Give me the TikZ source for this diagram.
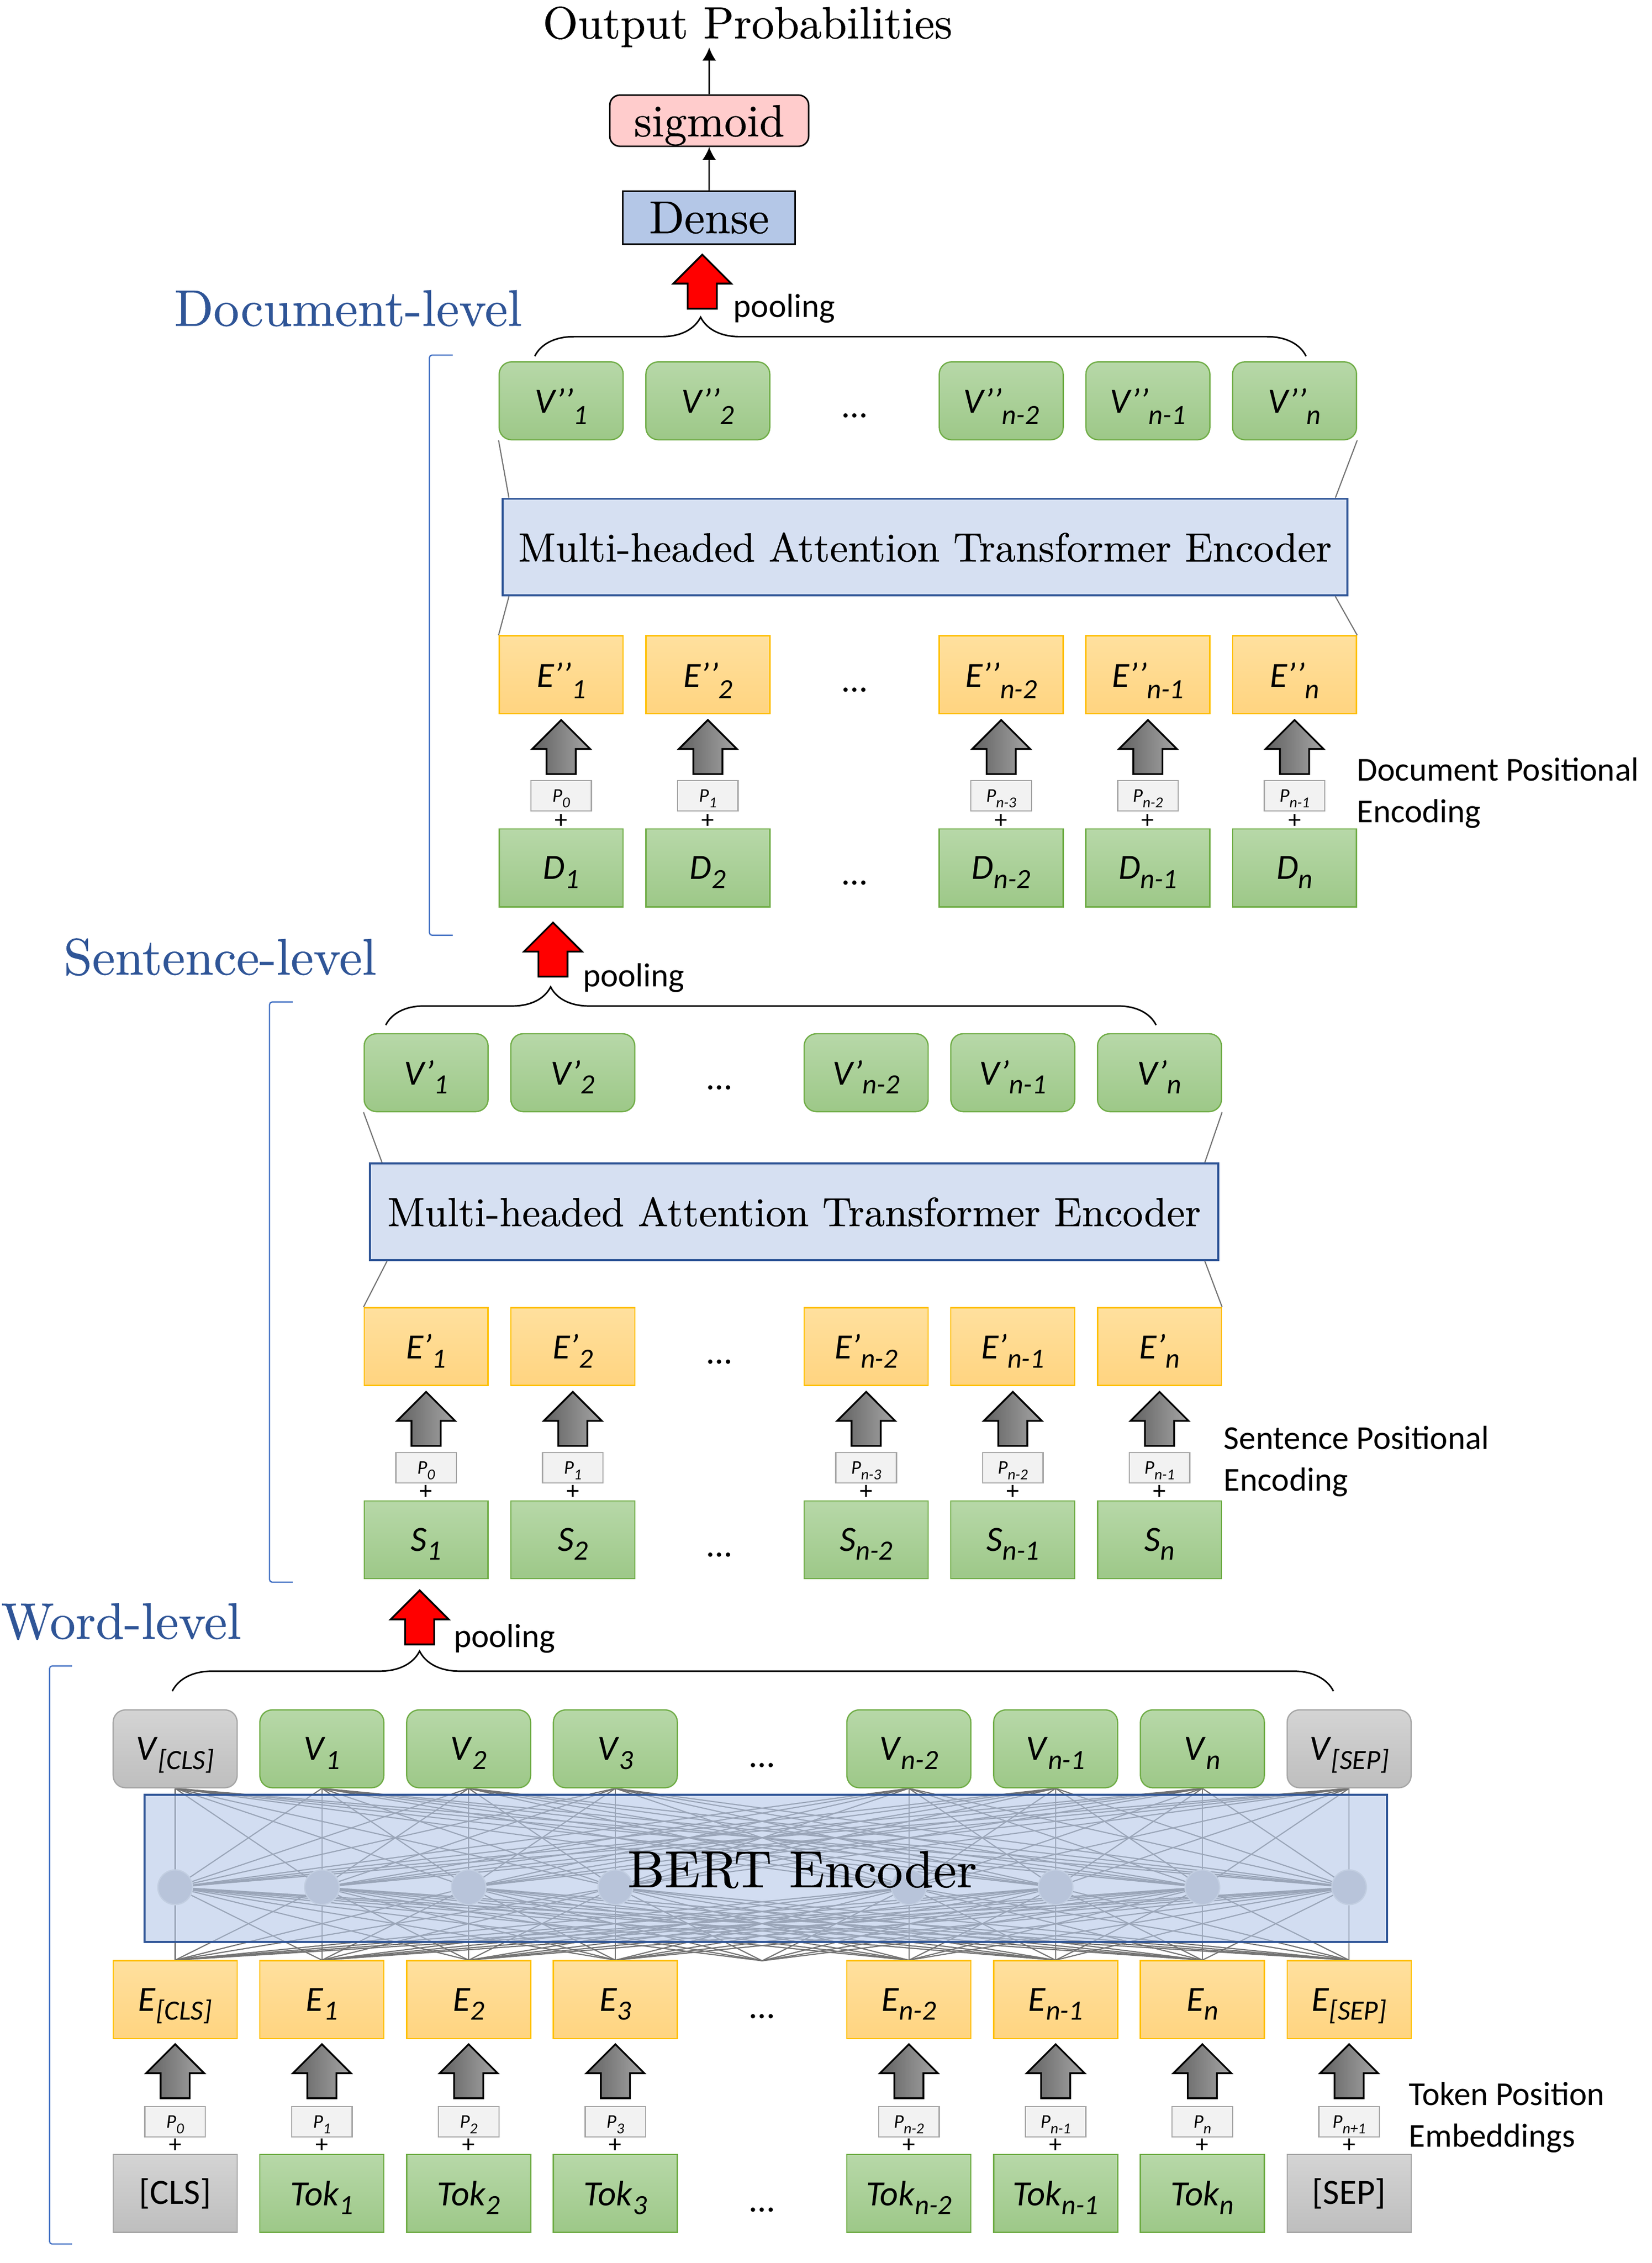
\documentclass[tikz,border=0pt]{standalone}
\usepackage{fontspec}
\newfontfamily\cali{Carlito}
\newfontfamily\lmten{lmroman10-regular.otf}[FakeBold=0.4]
\usetikzlibrary{arrows.meta,shapes.arrows,decorations.pathreplacing}
\pgfdeclarelayer{background}
\pgfsetlayers{background,main}

\definecolor{boxgreen}{RGB}{112,173,71}
\definecolor{greentop}{RGB}{183,216,168}
\definecolor{greenbot}{RGB}{157,200,136}
\definecolor{boxorange}{RGB}{255,192,0}
\definecolor{orangetop}{RGB}{255,224,158}
\definecolor{orangebot}{RGB}{255,212,128}
\definecolor{graytop}{RGB}{212,212,212}
\definecolor{graybot}{RGB}{190,190,190}
\definecolor{grayedge}{RGB}{166,166,166}
\definecolor{encfill}{RGB}{214,224,242}
\definecolor{encblue}{RGB}{180,199,231}
\definecolor{encedge}{RGB}{47,85,151}
\definecolor{levelblue}{RGB}{47,85,151}
\definecolor{bracketblue}{RGB}{68,114,196}
\definecolor{sigpink}{RGB}{255,204,204}
\definecolor{linkgray}{RGB}{115,115,115}

% label with lowered subscript
\newcommand{\sublbl}[3][3.5pt]{\textit{#2}\raisebox{-#1}[0pt][0pt]{\fontsize{11}{11}\selectfont\textit{#3}}}
\newcommand{\plbl}[1]{\textit{P}\raisebox{-2.3pt}[0pt][0pt]{\fontsize{6}{6}\selectfont\textit{#1}}}

\begin{document}
\begin{tikzpicture}[x=0.02cm, y=-0.02cm,
    every node/.style={inner sep=0pt},
    unit/.style={minimum width=1.72cm, minimum height=1.08cm, line width=0.5pt,
                 font=\cali\fontsize{14}{16}\selectfont},
    vbox/.style={unit, rounded corners=0.17cm, draw=boxgreen, top color=greentop, bottom color=greenbot},
    vgray/.style={unit, rounded corners=0.17cm, draw=grayedge, top color=graytop, bottom color=graybot},
    ebox/.style={unit, draw=boxorange, top color=orangetop, bottom color=orangebot},
    tbox/.style={unit, draw=boxgreen, top color=greentop, bottom color=greenbot},
    tgray/.style={unit, draw=grayedge, top color=graytop, bottom color=graybot},
    pbox/.style={draw=grayedge, fill=black!5, line width=0.5pt, minimum width=0.84cm,
                 minimum height=0.42cm, inner xsep=1pt, font=\cali\fontsize{7.6}{8}\selectfont},
    plus/.style={font=\cali\fontsize{10}{10}\selectfont},
    dots/.style={font=\cali\fontsize{14}{16}\selectfont},
    uparrow/.style={single arrow, rotate=90, draw=black, line width=0.7pt, minimum height=0.75cm,
                    single arrow head extend=0.2cm, inner xsep=0pt, inner ysep=0.19cm},
    posarrow/.style={uparrow, left color=black!62, right color=black!35},
    poolarrow/.style={uparrow, fill=red},
    poolinglbl/.style={anchor=base west, font=\cali\fontsize{13.2}{16}\selectfont},
    postext/.style={anchor=west, align=left, font=\cali\fontsize{13.2}{16.5}\selectfont},
    levellbl/.style={anchor=base west, text=levelblue, font=\lmten\fontsize{20.3}{24}\selectfont},
    bracket/.style={draw=bracketblue, line width=0.5pt, rounded corners=1pt},
    levelbrace/.style={decorate, line width=0.6pt},
    mhabox/.style={draw=encedge, fill=encfill, line width=0.8pt, minimum width=11.72cm,
                   minimum height=1.34cm, font=\lmten\fontsize{16.1}{18}\selectfont},
    link/.style={draw=linkgray, line width=0.45pt},
    hidden/.style={circle, minimum size=0.48cm, fill={rgb,255:red,190;green,192;blue,200},
                   draw=black!15, line width=0.5pt},
    tip/.style={-{Latex[length=0.18cm,width=0.19cm]}, line width=0.5pt}]
    \useasboundingbox (0,0) rectangle (1146,1569.65);

    % Output
    \node[anchor=base, font=\lmten\fontsize{17.8}{20}\selectfont] (out) at (518.6,26.6) {Output Probabilities};
    \node[draw=black, fill=sigpink, rounded corners=0.14cm, line width=0.6pt, minimum width=2.76cm,
          minimum height=0.71cm, text depth=0pt, font=\lmten\fontsize{17.8}{20}\selectfont] (sig) at (492,83.7) {sigmoid};
    \node[draw=black, fill=encblue, line width=0.6pt, minimum width=2.39cm, minimum height=0.74cm,
          font=\lmten\fontsize{18.2}{20}\selectfont] (dense) at (491.9,151) {Dense};
    \draw[tip] (dense.north) -- (sig.south);
    \draw[tip] (sig.north) -- (sig.north |- out.south);

    % Document level
    \node[levellbl] (doclbl) at (120.5,226) {Document-level};
    \draw[bracket] (314,246.3) -- (297.9,246.3) -- (297.9,648.7) -- (314,648.7);
    \node[poolarrow, anchor=tail] (dpool) at (487.2,214.7) {};
    \node[poolinglbl] (dpoollbl) at (508.5,220) {pooling};
    \draw[levelbrace, decoration={brace, amplitude=0.54cm, aspect=0.215}] (371,247) -- (906,247);
    \foreach \k/\s/\p in {0/1/0, 1/2/1, 3/n-2/n-3, 4/n-1/n-2, 5/n/n-1} {
        \pgfmathsetmacro{\xx}{389.3+101.75*\k}
        \node[vbox] (dv\k) at (\xx,278) {\sublbl[4.5pt]{V’’}{\s}};
        \node[ebox] (de\k) at (\xx,468) {\sublbl[4.5pt]{E’’}{\s}};
        \node[posarrow, anchor=tail] (da\k) at (\xx,537.5) {};
        \node[pbox] (dp\k) at (\xx,552) {\plbl{\p}};
        \node[plus] (dplus\k) at (\xx,569.6) {+};
        \node[tbox] (dd\k) at (\xx,602) {\sublbl{D}{\s}};
    }
    \foreach \y/\r in {282/v, 472/e, 606/d}
        \node[dots] (ddots\r) at (592.8,\y) {\vphantom{V}…};
    \node[mhabox] (dmha) at (641.7,379.5) {Multi-headed Attention Transformer Encoder};
    \draw[link] (dv0.south west) -- ([xshift=0.1cm]dmha.north west);
    \draw[link] (dv5.south east) -- ([xshift=-0.18cm]dmha.north east);
    \draw[link] ([xshift=0.1cm]dmha.south west) -- (de0.north west);
    \draw[link] ([xshift=-0.18cm]dmha.south east) -- (de5.north east);
    \node[postext] (dpos) at (941,550.1) {Document Positional\\Encoding};

    % Sentence level
    \node[levellbl] (sentlbl) at (43.8,676) {Sentence-level};
    \draw[bracket] (203,695) -- (187,695) -- (187,1097.4) -- (203,1097.4);
    \node[poolarrow, anchor=tail] (spool) at (383.6,678) {};
    \node[poolinglbl] (spoollbl) at (404.1,684.3) {pooling};
    \draw[levelbrace, decoration={brace, amplitude=0.53cm, aspect=0.214}] (267.6,711) -- (802,711);
    \foreach \k/\s/\p in {0/1/0, 1/2/1, 3/n-2/n-3, 4/n-1/n-2, 5/n/n-1} {
        \pgfmathsetmacro{\xx}{295.6+101.75*\k}
        \node[vbox] (sv\k) at (\xx,744) {\sublbl{V’}{\s}};
        \node[ebox] (se\k) at (\xx,934) {\sublbl{E’}{\s}};
        \node[posarrow, anchor=tail] (sa\k) at (\xx,1003.5) {};
        \node[pbox] (sp\k) at (\xx,1018) {\plbl{\p}};
        \node[plus] (splus\k) at (\xx,1035) {+};
        \node[tbox] (ss\k) at (\xx,1068) {\sublbl{S}{\s}};
    }
    \foreach \y/\r in {748/v, 938/e, 1072/s}
        \node[dots] (sdots\r) at (499.1,\y) {\vphantom{V}…};
    \node[mhabox, minimum width=11.77cm] (smha) at (550.9,840.5) {Multi-headed Attention Transformer Encoder};
    \draw[link] (sv0.south west) -- ([xshift=0.18cm]smha.north west);
    \draw[link] (sv5.south east) -- ([xshift=-0.2cm]smha.north east);
    \draw[link] ([xshift=0.25cm]smha.south west) -- (se0.north west);
    \draw[link] ([xshift=-0.2cm]smha.south east) -- (se5.north east);
    \node[postext] (spos) at (848.7,1013.6) {Sentence Positional\\Encoding};

    % Word level
    \node[levellbl] (wordlbl) at (0.5,1136.7) {Word-level};
    \draw[bracket] (50,1155.5) -- (34.4,1155.5) -- (34.4,1556.5) -- (50,1556.5);
    \node[poolarrow, anchor=tail] (wpool) at (291.1,1141.2) {};
    \node[poolinglbl] (wpoollbl) at (314.5,1142.6) {pooling};
    \draw[levelbrace, decoration={brace, amplitude=0.555cm, aspect=0.213}] (119.5,1173) -- (925,1173);
    \foreach \k/\s in {1/1, 2/2, 3/3, 5/n-2, 6/n-1, 7/n} {
        \pgfmathsetmacro{\xx}{121.5+101.8*\k}
        \node[vbox] (wv\k) at (\xx,1213) {\sublbl{V}{\s}};
        \node[ebox] (we\k) at (\xx,1387) {\sublbl{E}{\s}};
        \node[posarrow, anchor=tail] (wa\k) at (\xx,1456) {};
        \node[pbox] (wp\k) at (\xx,1471.7) {\plbl{\s}};
        \node[plus] (wplus\k) at (\xx,1488.4) {+};
        \node[tbox] (wt\k) at (\xx,1521.4) {\sublbl{Tok}{\s}};
    }
    % [CLS] and [SEP]
    \foreach \k/\s/\p in {0/CLS/0, 8/SEP/n+1} {
        \pgfmathsetmacro{\xx}{121.5+101.8*\k}
        \node[vgray] (wv\k) at (\xx,1213) {\sublbl{V}{[\s]}};
        \node[ebox] (we\k) at (\xx,1387) {\sublbl{E}{[\s]}};
        \node[posarrow, anchor=tail] (wa\k) at (\xx,1456) {};
        \node[pbox] (wp\k) at (\xx,1471.7) {\plbl{\p}};
        \node[plus] (wplus\k) at (\xx,1488.4) {+};
        \node[tgray] (wt\k) at (\xx,1521.4) {[\s]};
    }
    \foreach \y/\r in {1218/v, 1392/e, 1526.4/t}
        \node[dots] (wdots\r) at (528.7,\y) {\vphantom{V}…};
    \node[postext] (wpos) at (977,1468.6) {Token Position\\Embeddings};

    % BERT encoder
    \foreach \k in {0,1,2,3,5,6,7,8}
        \node[hidden] (bc\k) at (121.5+101.8*\k,1309) {};
    \coordinate (wedots) at (528.7,1360);
    \begin{pgfonlayer}{background}
        \foreach \k in {0,1,2,3,5,6,7,8} {
            \foreach \j in {0,1,2,3,5,6,7,8} {
                \draw[link] (bc\k) -- (wv\j.south);
                \draw[link] (bc\k) -- (we\j.north);
            }
            \draw[link] (bc\k) -- (wedots);
        }
    \end{pgfonlayer}
    \node[draw=encedge, fill=encblue, fill opacity=0.6, line width=0.8pt, minimum width=17.24cm,
          minimum height=2.04cm] (bert) at (531.3,1296) {};
    \node[anchor=base, font=\lmten\fontsize{20.6}{24}\selectfont] (berttxt) at (556.5,1309) {BERT Encoder};
\end{tikzpicture}
\end{document}
